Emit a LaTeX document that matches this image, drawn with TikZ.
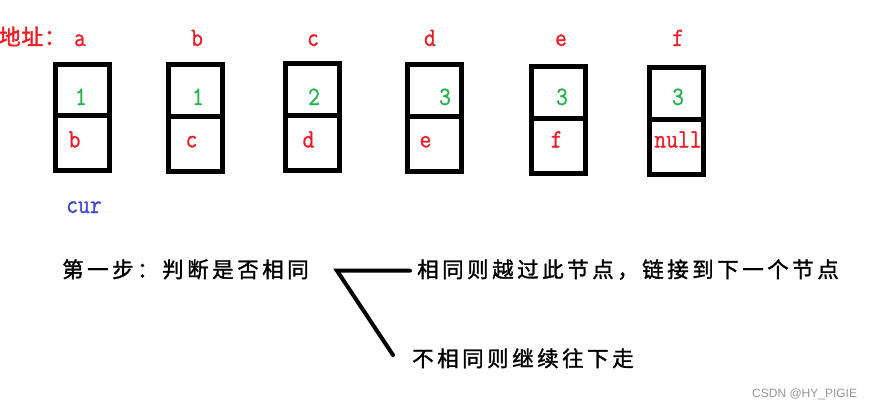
\documentclass[tikz,border=0pt]{standalone}
\usepackage{graphicx}
\usepackage{fontspec}
\setmainfont[FakeBold=0.8]{Latin Modern Mono}
\newfontfamily\cjkfont[LetterSpace=16.3, FakeBold=1.4]{Noto Sans CJK SC}
\newfontfamily\cjkaddr[LetterSpace=3, FakeBold=1.8]{Noto Sans CJK SC}
\newfontfamily\wmfont{Liberation Sans}
\definecolor{pred}{RGB}{237,28,36}
\definecolor{pgreen}{RGB}{34,177,76}
\definecolor{pblue}{RGB}{63,72,204}
\definecolor{wmgray}{RGB}{150,150,150}
\newcommand\tallt[1]{\scalebox{1}[1.15]{#1}}
\newcommand\mkbox[6]{%
  \node[cellbox, minimum width={#3-#2}, minimum height={#5-#4}] (#1top) at ({(#2+#3)/2},{(#4+#5)/2}) {};
  \node[cellbox, minimum width={#3-#2}, minimum height={#6-#5}] (#1bot) at ({(#2+#3)/2},{(#5+#6)/2}) {};}
\tikzset{
  cellbox/.style={draw=black, line width=5pt, inner sep=0pt, rectangle},
  lbl/.style={inner sep=0pt, anchor=base, font=\fontsize{23}{23}\selectfont},
  addrlbl/.style={lbl, text=pred},
  vallbl/.style={lbl, text=pgreen},
  curlbl/.style={lbl, text=pblue},
  cjktext/.style={inner sep=0pt, anchor=base west, font=\cjkfont\fontsize{21.5}{22}\selectfont},
  branch/.style={line width=4pt, line cap=round, line join=miter},
}
\begin{document}
\begin{tikzpicture}[x=1pt,y=-1pt]
\fill[white] (0,0) rectangle (878,409);
\useasboundingbox (0,0) rectangle (878,409);
% boxes: name L R T D B
\mkbox{a}{55.8}{109.2}{64.2}{115.7}{170.2}
\mkbox{b}{168.5}{222.5}{64.8}{116.3}{171.2}
\mkbox{c}{285.8}{339.2}{63.5}{115.7}{170.2}
\mkbox{d}{407.5}{461.2}{64.8}{116.7}{171.2}
\mkbox{e}{531.8}{585.2}{66.8}{118.7}{173.2}
\mkbox{f}{649.5}{703.5}{67.8}{119.7}{174.2}
% address header
\node[inner sep=0pt, anchor=base west, text=pred, font=\cjkaddr\fontsize{22}{22}\selectfont] (addr) at (-1.5,45) {地址：};
\node[addrlbl] (la) at (80,46) {\tallt{a}};
\node[addrlbl] (lb) at (197,46) {\tallt{b}};
\node[addrlbl] (lc) at (313,46) {\tallt{c}};
\node[addrlbl] (ld) at (430,46) {\tallt{d}};
\node[addrlbl] (le) at (561,46) {\tallt{e}};
\node[addrlbl] (lf) at (678,46) {\tallt{f}};
% values
\node[vallbl] (va) at (81,105) {\tallt{1}};
\node[vallbl] (vb) at (198,105) {\tallt{1}};
\node[vallbl] (vc) at (314,105) {\tallt{2}};
\node[vallbl] (vd) at (445,105) {\tallt{3}};
\node[vallbl] (ve) at (562,105) {\tallt{3}};
\node[vallbl] (vf) at (678,105) {\tallt{3}};
% next pointers
\node[addrlbl] (na) at (74.5,147.5) {\tallt{b}};
\node[addrlbl] (nb) at (191.5,147.5) {\tallt{c}};
\node[addrlbl] (nc) at (308.5,147.5) {\tallt{d}};
\node[addrlbl] (nd) at (425.5,147.5) {\tallt{e}};
\node[addrlbl] (ne) at (556.5,147.5) {\tallt{f}};
\node[addrlbl] (nf) at (678,147.5) {\tallt{null}};
% cur
\node[curlbl] (cur) at (84,213) {\tallt{cur}};
% explanation
\node[cjktext] (step) at (62,277.5) {第一步：判断是否相同};
\node[cjktext] (same) at (417,277.5) {相同则越过此节点，链接到下一个节点};
\node[cjktext] (diff) at (412,366.5) {不相同则继续往下走};
\coordinate (fork) at (337,270.7);
\coordinate (hend) at (410,270.7);
\coordinate (dend) at (393,355);
\draw[branch] (hend) -- (fork) -- (dend);
% watermark
\node[inner sep=0pt, anchor=base west, text=wmgray, font=\wmfont\fontsize{12}{12}\selectfont] (wm) at (752,397) {CSDN @HY\_PIGIE};
\end{tikzpicture}
\end{document}
